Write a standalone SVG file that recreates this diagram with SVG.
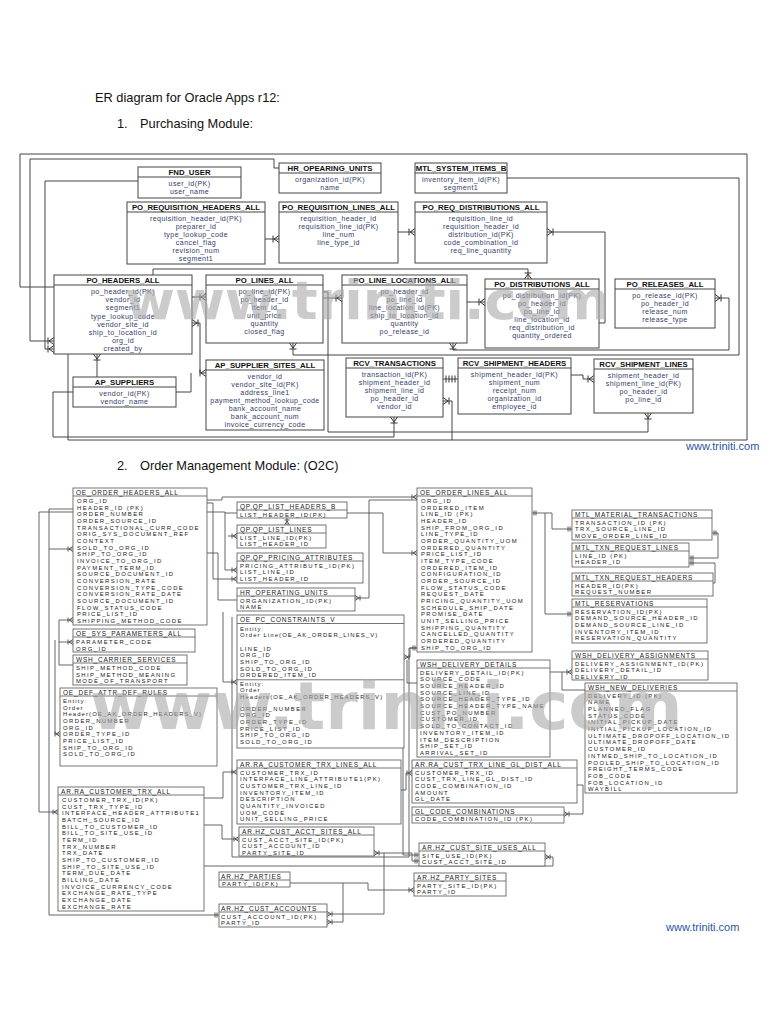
<svg xmlns="http://www.w3.org/2000/svg" width="768" height="1024" viewBox="0 0 768 1024">
<defs>
<style>
.bx rect{fill:#fff;stroke:#444;stroke-width:1}
.bx line{stroke:#444;stroke-width:1}
.bb rect{fill:#fff;stroke:#666;stroke-width:0.9}
.bb line{stroke:#666;stroke-width:0.9}
.th{font-family:"Liberation Sans",Arial,sans-serif;font-weight:bold;font-size:7.8px;fill:#111;text-anchor:middle}
.ta{font-family:"Liberation Sans",Arial,sans-serif;font-size:7.1px;letter-spacing:0.4px;fill:#33406a;text-anchor:middle}
.bh{font-family:"Liberation Sans",Arial,sans-serif;font-size:6.5px;fill:#222;letter-spacing:0.8px}
.ba{font-family:"Liberation Sans",Arial,sans-serif;font-size:5.95px;fill:#222;letter-spacing:1.4px}
.bm{font-family:"Liberation Sans",Arial,sans-serif;font-size:5.95px;fill:#222;letter-spacing:1.1px}
.cn path{fill:none;stroke:#444;stroke-width:1}
.cb path{fill:none;stroke:#555;stroke-width:0.9}
.ttl{font-family:"Liberation Sans",Arial,sans-serif;font-size:12.8px;fill:#111}
.wm{font-family:"DejaVu Sans","Liberation Sans",sans-serif;font-weight:bold;fill:#aaa;opacity:0.6}
.url{font-family:"Liberation Sans",Arial,sans-serif;font-size:11px;fill:#2a55a0}
</style>
<marker id="mn" viewBox="0 0 9 8" refX="9" refY="4" markerWidth="9" markerHeight="8" markerUnits="userSpaceOnUse" orient="auto-start-reverse"><path d="M9,0.5 L4,4 L9,7.5 M3,0.5 V7.5" fill="none" stroke="#333" stroke-width="1"/></marker>
<marker id="on" viewBox="0 0 9 8" refX="9" refY="4" markerWidth="9" markerHeight="8" markerUnits="userSpaceOnUse" orient="auto-start-reverse"><path d="M6,0.5 V7.5 M3,0.5 V7.5" fill="none" stroke="#333" stroke-width="1"/></marker>
<marker id="ms" viewBox="0 0 7 6" refX="7" refY="3" markerWidth="7" markerHeight="6" markerUnits="userSpaceOnUse" orient="auto-start-reverse"><path d="M7,0.5 L3,3 L7,5.5 M2,0.5 V5.5" fill="none" stroke="#444" stroke-width="0.9"/></marker>
<marker id="os" viewBox="0 0 7 6" refX="7" refY="3" markerWidth="7" markerHeight="6" markerUnits="userSpaceOnUse" orient="auto-start-reverse"><path d="M5,0.5 V5.5 M3,0.5 V5.5" fill="none" stroke="#444" stroke-width="0.9"/></marker>
</defs>
<rect width="768" height="1024" fill="#fff"/>

<text class="ttl" x="95" y="102">ER diagram for Oracle Apps r12:</text>
<text class="ttl" x="117" y="128">1.</text>
<text class="ttl" x="140" y="128">Purchasing Module:</text>
<text class="ttl" x="117" y="470">2.</text>
<text class="ttl" x="140" y="470">Order Management Module: (O2C)</text>

<!-- ===== TOP CONNECTORS ===== -->
<g id="connectors-purchasing" class="cn">
<path d="M265,239 H279" marker-end="url(#mn)"/>
<path d="M398,232 H415" marker-end="url(#mn)"/>
<path d="M192,297 H206" marker-end="url(#mn)"/>
<path d="M192,323 H200 V373 H206" marker-start="url(#mn)" marker-end="url(#mn)"/>
<path d="M176,392 H191 V373"/>
<path d="M97,377 V354" marker-end="url(#mn)"/>
<path d="M138,181 H45 V349 H54" marker-end="url(#mn)"/>
<path d="M279,168 H274 V159 H30 V341 H54" marker-end="url(#mn)"/>
<path d="M54,287 H20 V154 H747 V440 H68 V354"/>
<path d="M73,392 H53 V437 H394 V417" marker-end="url(#mn)"/>
<path d="M452,440 V401 H443" marker-end="url(#mn)"/>
<path d="M323,292 H328 V432 H648 V413" marker-end="url(#mn)"/>
<path d="M323,298 H342" marker-end="url(#mn)"/>
<path d="M467,302 H485" marker-end="url(#mn)"/>
<path d="M715,298 H729 V350 H453 V343" marker-start="url(#mn)" marker-end="url(#mn)"/>
<path d="M507,178 H739 V355 H293 V343" marker-end="url(#mn)"/>
<path d="M599,323 H605 V232 H547" marker-end="url(#mn)"/>
<path d="M153,275 V269 H528 V279" marker-end="url(#mn)"/>
<path d="M443,379 H458" marker-start="url(#on)" marker-end="url(#on)"/>
<path d="M571,375 H583 V379 H594" marker-end="url(#mn)"/>
</g>

<!-- ===== TOP NODES ===== -->
<g id="fnd_user" class="bx"><rect x="138" y="167" width="103" height="31"/><line x1="138" y1="177" x2="241" y2="177"/><text class="th" x="189.5" y="175">FND_USER</text><text class="ta"><tspan x="189.5" y="186">user_id(PK)</tspan><tspan x="189.5" dy="8">user_name</tspan></text></g>
<g id="hr_opearing_units" class="bx"><rect x="279" y="163" width="102" height="30"/><line x1="279" y1="173" x2="381" y2="173"/><text class="th" x="330" y="171">HR_OPEARING_UNITS</text><text class="ta"><tspan x="330" y="182">organization_id(PK)</tspan><tspan x="330" dy="8">name</tspan></text></g>
<g id="mtl_system_items_b" class="bx"><rect x="415" y="163" width="92" height="30"/><line x1="415" y1="173" x2="507" y2="173"/><text class="th" x="461" y="171">MTL_SYSTEM_ITEMS_B</text><text class="ta"><tspan x="461" y="182">inventory_item_id(PK)</tspan><tspan x="461" dy="8">segment1</tspan></text></g>
<g id="po_requisition_headers_all" class="bx"><rect x="127" y="202" width="138" height="62"/><line x1="127" y1="212" x2="265" y2="212"/><text class="th" x="196" y="210">PO_REQUISITION_HEADERS_ALL</text><text class="ta"><tspan x="196" y="221">requisition_header_id(PK)</tspan><tspan x="196" dy="8">preparer_id</tspan><tspan x="196" dy="8">type_lookup_code</tspan><tspan x="196" dy="8">cancel_flag</tspan><tspan x="196" dy="8">revision_num</tspan><tspan x="196" dy="8">segment1</tspan></text></g>
<g id="po_requisition_lines_all" class="bx"><rect x="279" y="202" width="119" height="61"/><line x1="279" y1="212" x2="398" y2="212"/><text class="th" x="338.5" y="210">PO_REQUISITION_LINES_ALL</text><text class="ta"><tspan x="338.5" y="221">requisition_header_id</tspan><tspan x="338.5" dy="8">requisition_line_id(PK)</tspan><tspan x="338.5" dy="8">line_num</tspan><tspan x="338.5" dy="8">line_type_id</tspan></text></g>
<g id="po_req_distributions_all" class="bx"><rect x="415" y="202" width="132" height="61"/><line x1="415" y1="212" x2="547" y2="212"/><text class="th" x="481" y="210">PO_REQ_DISTRIBUTIONS_ALL</text><text class="ta"><tspan x="481" y="221">requisition_line_id</tspan><tspan x="481" dy="8">requisition_header_id</tspan><tspan x="481" dy="8">distribution_id(PK)</tspan><tspan x="481" dy="8">code_combination_id</tspan><tspan x="481" dy="8">req_line_quantity</tspan></text></g>
<g id="po_headers_all" class="bx"><rect x="54" y="275" width="138" height="79"/><line x1="54" y1="285" x2="192" y2="285"/><text class="th" x="123" y="283">PO_HEADERS_ALL</text><text class="ta"><tspan x="123" y="294">po_header_id(PK)</tspan><tspan x="123" dy="8.2">vendor_id</tspan><tspan x="123" dy="8.2">segment1</tspan><tspan x="123" dy="8.2">type_lookup_code</tspan><tspan x="123" dy="8.2">vendor_site_id</tspan><tspan x="123" dy="8.2">ship_to_location_id</tspan><tspan x="123" dy="8.2">org_id</tspan><tspan x="123" dy="8.2">created_by</tspan></text></g>
<g id="po_lines_all" class="bx"><rect x="206" y="275" width="117" height="68"/><line x1="206" y1="285" x2="323" y2="285"/><text class="th" x="264.5" y="283">PO_LINES_ALL</text><text class="ta"><tspan x="264.5" y="294">po_line_id(PK)</tspan><tspan x="264.5" dy="8">po_header_id</tspan><tspan x="264.5" dy="8">item_id</tspan><tspan x="264.5" dy="8">unit_price</tspan><tspan x="264.5" dy="8">quantity</tspan><tspan x="264.5" dy="8">closed_flag</tspan></text></g>
<g id="po_line_locations_all" class="bx"><rect x="342" y="275" width="125" height="68"/><line x1="342" y1="285" x2="467" y2="285"/><text class="th" x="404.5" y="283">PO_LINE_LOCATIONS_ALL</text><text class="ta"><tspan x="404.5" y="294">po_header_id</tspan><tspan x="404.5" dy="8">po_line_id</tspan><tspan x="404.5" dy="8">line_location_id(PK)</tspan><tspan x="404.5" dy="8">ship_to_location_id</tspan><tspan x="404.5" dy="8">quantity</tspan><tspan x="404.5" dy="8">po_release_id</tspan></text></g>
<g id="po_distributions_all" class="bx"><rect x="485" y="279" width="114" height="69"/><line x1="485" y1="289" x2="599" y2="289"/><text class="th" x="542" y="287">PO_DISTRIBUTIONS_ALL</text><text class="ta"><tspan x="542" y="298">po_distribution_id(PK)</tspan><tspan x="542" dy="8">po_header_id</tspan><tspan x="542" dy="8">po_line_id</tspan><tspan x="542" dy="8">line_location_id</tspan><tspan x="542" dy="8">req_distribution_id</tspan><tspan x="542" dy="8">quantity_ordered</tspan></text></g>
<g id="po_releases_all" class="bx"><rect x="615" y="279" width="100" height="49"/><line x1="615" y1="289" x2="715" y2="289"/><text class="th" x="665" y="287">PO_RELEASES_ALL</text><text class="ta"><tspan x="665" y="298">po_release_id(PK)</tspan><tspan x="665" dy="8">po_header_id</tspan><tspan x="665" dy="8">release_num</tspan><tspan x="665" dy="8">release_type</tspan></text></g>
<g id="ap_suppliers" class="bx"><rect x="73" y="377" width="103" height="30"/><line x1="73" y1="387" x2="176" y2="387"/><text class="th" x="124.5" y="385">AP_SUPPLIERS</text><text class="ta"><tspan x="124.5" y="396">vendor_id(PK)</tspan><tspan x="124.5" dy="8">vendor_name</tspan></text></g>
<g id="ap_supplier_sites_all" class="bx"><rect x="206" y="360" width="118" height="70"/><line x1="206" y1="370" x2="324" y2="370"/><text class="th" x="265" y="368">AP_SUPPLIER_SITES_ALL</text><text class="ta"><tspan x="265" y="379">vendor_id</tspan><tspan x="265" dy="8">vendor_site_id(PK)</tspan><tspan x="265" dy="8">address_line1</tspan><tspan x="265" dy="8">payment_method_lookup_code</tspan><tspan x="265" dy="8">bank_account_name</tspan><tspan x="265" dy="8">bank_account_num</tspan><tspan x="265" dy="8">invoice_currency_code</tspan></text></g>
<g id="rcv_transactions" class="bx"><rect x="346" y="358" width="97" height="59"/><line x1="346" y1="368" x2="443" y2="368"/><text class="th" x="394.5" y="366">RCV_TRANSACTIONS</text><text class="ta"><tspan x="394.5" y="377">transaction_id(PK)</tspan><tspan x="394.5" dy="8">shipment_header_id</tspan><tspan x="394.5" dy="8">shipment_line_id</tspan><tspan x="394.5" dy="8">po_header_id</tspan><tspan x="394.5" dy="8">vendor_id</tspan></text></g>
<g id="rcv_shipment_headers" class="bx"><rect x="458" y="358" width="113" height="56"/><line x1="458" y1="368" x2="571" y2="368"/><text class="th" x="514.5" y="366">RCV_SHIPMENT_HEADERS</text><text class="ta"><tspan x="514.5" y="377">shipment_header_id(PK)</tspan><tspan x="514.5" dy="8">shipment_num</tspan><tspan x="514.5" dy="8">receipt_num</tspan><tspan x="514.5" dy="8">organization_id</tspan><tspan x="514.5" dy="8">employee_id</tspan></text></g>
<g id="rcv_shipment_lines" class="bx"><rect x="594" y="359" width="99" height="54"/><line x1="594" y1="369" x2="693" y2="369"/><text class="th" x="643.5" y="367">RCV_SHIPMENT_LINES</text><text class="ta"><tspan x="643.5" y="378">shipment_header_id</tspan><tspan x="643.5" dy="8">shipment_line_id(PK)</tspan><tspan x="643.5" dy="8">po_header_id</tspan><tspan x="643.5" dy="8">po_line_id</tspan></text></g>

<text class="url" x="686" y="450">www.triniti.com</text>

<!-- ===== BOTTOM CONNECTORS ===== -->
<g id="connectors-o2c" class="cb">
<path d="M73,509 H49 V915 H219" marker-end="url(#os)"/>
<path d="M73,512 H39 V812 H58" marker-end="url(#ms)"/>
<path d="M49,549 H73" marker-end="url(#ms)"/>
<path d="M73,665 H59 V620 H73" marker-end="url(#ms)"/>
<path d="M59,642 H73" marker-end="url(#ms)"/>
<path d="M55,640 V734 H60" marker-end="url(#ms)"/>
<path d="M207,500 H222 V497 H417" marker-end="url(#ms)"/>
<path d="M207,512 H225 V570 H237" marker-end="url(#ms)"/>
<path d="M207,503 H213 V579 H237" marker-end="url(#ms)"/>
<path d="M225,513 H237"/>
<path d="M228,536 H237" marker-end="url(#ms)"/>
<path d="M207,553 H218 V600 H237"/>
<path d="M287,518 V525" marker-end="url(#ms)"/>
<path d="M347,513 H383 V553 H417" marker-end="url(#ms)"/>
<path d="M355,598 H369 V500 H417" marker-start="url(#ms)"/>
<path d="M223,612 V682 H237" marker-end="url(#ms)"/>
<path d="M404,657 H410 V648 H417" marker-start="url(#ms)" marker-end="url(#os)"/>
<path d="M417,683 H407 V660"/>
<path d="M532,513 H552 V529 H572" marker-start="url(#os)" marker-end="url(#os)"/>
<path d="M545,513 V614 H572" marker-end="url(#os)"/>
<path d="M712,533 H718 V558 H689" marker-start="url(#os)" marker-end="url(#os)"/>
<path d="M689,563 H715 V583 H713" marker-start="url(#os)"/>
<path d="M550,672 H572" marker-end="url(#ms)"/>
<path d="M562,672 V690 H585"/>
<path d="M204,798 H223 V772 H237" marker-end="url(#ms)"/>
<path d="M401,790 H406 V773 H412" marker-end="url(#ms)"/>
<path d="M204,825 H222 V839 H239" marker-end="url(#ms)"/>
<path d="M577,785 H583 V814 H564" marker-end="url(#ms)"/>
<path d="M204,866 H553 V857 H545" marker-end="url(#ms)"/>
<path d="M374,853 H412 V861 H419" marker-start="url(#ms)" marker-end="url(#os)"/>
<path d="M327,914 H384 V853" marker-start="url(#ms)"/>
<path d="M290,883 H368 V890 H414" marker-end="url(#ms)"/>
<path d="M343,883 V922 H327" marker-end="url(#ms)"/>
<path d="M417,648 H409 V857 H232 V617"/>
<path d="M403,652 V855 H419" marker-end="url(#os)"/>
</g>

<!-- ===== BOTTOM NODES ===== -->
<g id="oe_order_headers_all" class="bb"><rect x="73" y="488" width="134" height="137"/><line x1="73" y1="496" x2="207" y2="496"/><text class="bh" x="76" y="495">OE_ORDER_HEADERS_ALL</text><text class="ba"><tspan x="77" y="503">ORG_ID</tspan><tspan x="77" dy="6.67">HEADER_ID (PK)</tspan><tspan x="77" dy="6.67">ORDER_NUMBER</tspan><tspan x="77" dy="6.67">ORDER_SOURCE_ID</tspan><tspan x="77" dy="6.67">TRANSACTIONAL_CURR_CODE</tspan><tspan x="77" dy="6.67">ORIG_SYS_DOCUMENT_REF</tspan><tspan x="77" dy="6.67">CONTEXT</tspan><tspan x="77" dy="6.67">SOLD_TO_ORG_ID</tspan><tspan x="77" dy="6.67">SHIP_TO_ORG_ID</tspan><tspan x="77" dy="6.67">INVOICE_TO_ORG_ID</tspan><tspan x="77" dy="6.67">PAYMENT_TERM_ID</tspan><tspan x="77" dy="6.67">SOURCE_DOCUMENT_ID</tspan><tspan x="77" dy="6.67">CONVERSION_RATE</tspan><tspan x="77" dy="6.67">CONVERSION_TYPE_CODE</tspan><tspan x="77" dy="6.67">CONVERSION_RATE_DATE</tspan><tspan x="77" dy="6.67">SOURCE_DOCUMENT_ID</tspan><tspan x="77" dy="6.67">FLOW_STATUS_CODE</tspan><tspan x="77" dy="6.67">PRICE_LIST_ID</tspan><tspan x="77" dy="6.67">SHIPPING_METHOD_CODE</tspan></text></g>
<g id="oe_sys_parameters_all" class="bb"><rect x="73" y="629" width="122" height="23"/><line x1="73" y1="637" x2="195" y2="637"/><text class="bh" x="76" y="636">OE_SYS_PARAMETERS_ALL</text><text class="ba"><tspan x="76" y="644">PARAMETER_CODE</tspan><tspan x="76" dy="6.67">ORG_ID</tspan></text></g>
<g id="wsh_carrier_services" class="bb"><rect x="73" y="655" width="114" height="30"/><line x1="73" y1="663" x2="187" y2="663"/><text class="bh" x="76" y="662">WSH_CARRIER_SERVICES</text><text class="ba"><tspan x="76" y="670">SHIP_METHOD_CODE</tspan><tspan x="76" dy="6.67">SHIP_METHOD_MEANING</tspan><tspan x="76" dy="6.67">MODE_OF_TRANSPORT</tspan></text></g>
<g id="oe_def_attr_def_rules" class="bb"><rect x="60" y="688" width="157" height="78"/><line x1="60" y1="696" x2="217" y2="696"/><text class="bh" x="63" y="695">OE_DEF_ATTR_DEF_RULES</text><text class="bm"><tspan x="63" y="703">Entity:</tspan><tspan x="63" dy="6.67">Order</tspan><tspan x="63" dy="6.67">Header(OE_AK_ORDER_HEADERS_V)</tspan></text><text class="ba"><tspan x="63" y="723">ORDER_NUMBER</tspan><tspan x="63" dy="6.67">ORG_ID</tspan><tspan x="63" dy="6.67">ORDER_TYPE_ID</tspan><tspan x="63" dy="6.67">PRICE_LIST_ID</tspan><tspan x="63" dy="6.67">SHIP_TO_ORG_ID</tspan><tspan x="63" dy="6.67">SOLD_TO_ORG_ID</tspan></text></g>
<g id="ar_ra_customer_trx_all" class="bb"><rect x="58" y="787" width="146" height="124"/><line x1="58" y1="795" x2="204" y2="795"/><text class="bh" x="61" y="794">AR.RA_CUSTOMER_TRX_ALL</text><text class="ba"><tspan x="62" y="802">CUSTOMER_TRX_ID(PK)</tspan><tspan x="62" dy="6.67">CUST_TRX_TYPE_ID</tspan><tspan x="62" dy="6.67">INTERFACE_HEADER_ATTRIBUTE1</tspan><tspan x="62" dy="6.67">BATCH_SOURCE_ID</tspan><tspan x="62" dy="6.67">BILL_TO_CUSTOMER_ID</tspan><tspan x="62" dy="6.67">BILL_TO_SITE_USE_ID</tspan><tspan x="62" dy="6.67">TERM_ID</tspan><tspan x="62" dy="6.67">TRX_NUMBER</tspan><tspan x="62" dy="6.67">TRX_DATE</tspan><tspan x="62" dy="6.67">SHIP_TO_CUSTOMER_ID</tspan><tspan x="62" dy="6.67">SHIP_TO_SITE_USE_ID</tspan><tspan x="62" dy="6.67">TERM_DUE_DATE</tspan><tspan x="62" dy="6.67">BILLING_DATE</tspan><tspan x="62" dy="6.67">INVOICE_CURRENCY_CODE</tspan><tspan x="62" dy="6.67">EXCHANGE_RATE_TYPE</tspan><tspan x="62" dy="6.67">EXCHANGE_DATE</tspan><tspan x="62" dy="6.67">EXCHANGE_RATE</tspan></text></g>
<g id="qp_list_headers_b" class="bb"><rect x="237" y="502" width="110" height="16"/><line x1="237" y1="510" x2="347" y2="510"/><text class="bh" x="240" y="509">QP.QP_LIST_HEADERS_B</text><text class="ba"><tspan x="240" y="516.5">LIST_HEADER_ID(PK)</tspan></text></g>
<g id="qp_list_lines" class="bb"><rect x="237" y="525" width="89" height="23"/><line x1="237" y1="533" x2="326" y2="533"/><text class="bh" x="240" y="532">QP.QP_LIST_LINES</text><text class="ba"><tspan x="240" y="539.8">LIST_LINE_ID(PK)</tspan><tspan x="240" dy="6.67">LIST_HEADER_ID</tspan></text></g>
<g id="qp_pricing_attributes" class="bb"><rect x="237" y="553" width="126" height="30"/><line x1="237" y1="561" x2="363" y2="561"/><text class="bh" x="240" y="560">QP.QP_PRICING_ATTRIBUTES</text><text class="ba"><tspan x="240" y="567.8">PRICING_ATTRIBUTE_ID(PK)</tspan><tspan x="240" dy="6.67">LIST_LINE_ID</tspan><tspan x="240" dy="6.67">LIST_HEADER_ID</tspan></text></g>
<g id="hr_operating_units" class="bb"><rect x="237" y="588" width="118" height="23"/><line x1="237" y1="596" x2="355" y2="596"/><text class="bh" x="240" y="595">HR_OPERATING_UNITS</text><text class="ba"><tspan x="240" y="602.8">ORGANIZATION_ID(PK)</tspan><tspan x="240" dy="6.67">NAME</tspan></text></g>
<g id="oe_pc_constraints_v" class="bb"><rect x="237" y="615" width="167" height="133"/><line x1="237" y1="623.5" x2="404" y2="623.5"/><line x1="237" y1="679.8" x2="404" y2="679.8"/><text class="bh" x="240" y="622">OE_PC_CONSTRAINTS_V</text><text class="bm"><tspan x="240" y="630.5">Entity:</tspan><tspan x="240" dy="6.67">Order Line(OE_AK_ORDER_LINES_V)</tspan></text><text class="ba"><tspan x="240" y="650.5">LINE_ID</tspan><tspan x="240" dy="6.67">ORG_ID</tspan><tspan x="240" dy="6.67">SHIP_TO_ORG_ID</tspan><tspan x="240" dy="6.67">SOLD_TO_ORG_ID</tspan><tspan x="240" dy="6.67">ORDERED_ITEM_ID</tspan></text><text class="bm"><tspan x="240" y="685.5">Entity:</tspan><tspan x="240" dy="6.67">Order</tspan><tspan x="240" dy="6.67">Headers(OE_AK_ORDER_HEADERS_V)</tspan></text><text class="ba"><tspan x="240" y="710.5">ORDER_NUMBER</tspan><tspan x="240" dy="6.67">ORG_ID</tspan><tspan x="240" dy="6.67">ORDER_TYPE_ID</tspan><tspan x="240" dy="6.67">PRICE_LIST_ID</tspan><tspan x="240" dy="6.67">SHIP_TO_ORG_ID</tspan><tspan x="240" dy="6.67">SOLD_TO_ORG_ID</tspan></text></g>
<g id="ar_ra_customer_trx_lines_all" class="bb"><rect x="237" y="760" width="164" height="64"/><line x1="237" y1="768" x2="401" y2="768"/><text class="bh" x="240" y="767">AR.RA_CUSTOMER_TRX_LINES_ALL</text><text class="ba"><tspan x="240" y="774.8">CUSTOMER_TRX_ID</tspan><tspan x="240" dy="6.67">INTERFACE_LINE_ATTRIBUTE1(PK)</tspan><tspan x="240" dy="6.67">CUSTOMER_TRX_LINE_ID</tspan><tspan x="240" dy="6.67">INVENTORY_ITEM_ID</tspan><tspan x="240" dy="6.67">DESCRIPTION</tspan><tspan x="240" dy="6.67">QUANTITY_INVOICED</tspan><tspan x="240" dy="6.67">UOM_CODE</tspan><tspan x="240" dy="6.67">UNIT_SELLING_PRICE</tspan></text></g>
<g id="ar_hz_cust_acct_sites_all" class="bb"><rect x="239" y="827" width="135" height="29"/><line x1="239" y1="835" x2="374" y2="835"/><text class="bh" x="242" y="834">AR.HZ_CUST_ACCT_SITES_ALL</text><text class="ba"><tspan x="242" y="841.8">CUST_ACCT_SITE_ID(PK)</tspan><tspan x="242" dy="6.67">CUST_ACCOUNT_ID</tspan><tspan x="242" dy="6.67">PARTY_SITE_ID</tspan></text></g>
<g id="ar_hz_parties" class="bb"><rect x="219" y="872" width="71" height="15"/><line x1="219" y1="880" x2="290" y2="880"/><text class="bh" x="221" y="879">AR.HZ_PARTIES</text><text class="ba"><tspan x="222" y="886">PARTY_ID(PK)</tspan></text></g>
<g id="ar_hz_cust_accounts" class="bb"><rect x="219" y="904" width="108" height="23"/><line x1="219" y1="912" x2="327" y2="912"/><text class="bh" x="221" y="911">AR.HZ_CUST_ACCOUNTS</text><text class="ba"><tspan x="221" y="918.8">CUST_ACCOUNT_ID(PK)</tspan><tspan x="221" dy="6.67">PARTY_ID</tspan></text></g>
<g id="oe_order_lines_all" class="bb"><rect x="417" y="488" width="115" height="164"/><line x1="417" y1="496" x2="532" y2="496"/><text class="bh" x="420" y="495">OE_ORDER_LINES_ALL</text><text class="ba"><tspan x="421" y="503">ORG_ID</tspan><tspan x="421" dy="6.67">ORDERED_ITEM</tspan><tspan x="421" dy="6.67">LINE_ID (PK)</tspan><tspan x="421" dy="6.67">HEADER_ID</tspan><tspan x="421" dy="6.67">SHIP_FROM_ORG_ID</tspan><tspan x="421" dy="6.67">LINE_TYPE_ID</tspan><tspan x="421" dy="6.67">ORDER_QUANTITY_UOM</tspan><tspan x="421" dy="6.67">ORDERED_QUANTITY</tspan><tspan x="421" dy="6.67">PRICE_LIST_ID</tspan><tspan x="421" dy="6.67">ITEM_TYPE_CODE</tspan><tspan x="421" dy="6.67">ORDERED_ITEM_ID</tspan><tspan x="421" dy="6.67">CONFIGURATION_ID</tspan><tspan x="421" dy="6.67">ORDER_SOURCE_ID</tspan><tspan x="421" dy="6.67">FLOW_STATUS_CODE</tspan><tspan x="421" dy="6.67">REQUEST_DATE</tspan><tspan x="421" dy="6.67">PRICING_QUANTITY_UOM</tspan><tspan x="421" dy="6.67">SCHEDULE_SHIP_DATE</tspan><tspan x="421" dy="6.67">PROMISE_DATE</tspan><tspan x="421" dy="6.67">UNIT_SELLING_PRICE</tspan><tspan x="421" dy="6.67">SHIPPING_QUANTITY</tspan><tspan x="421" dy="6.67">CANCELLED_QUANTITY</tspan><tspan x="421" dy="6.67">ORDERED_QUANTITY</tspan><tspan x="421" dy="6.67">SHIP_TO_ORG_ID</tspan></text></g>
<g id="wsh_delivery_details" class="bb"><rect x="417" y="660" width="133" height="97"/><line x1="417" y1="668" x2="550" y2="668"/><text class="bh" x="420" y="667">WSH_DELIVERY_DETAILS</text><text class="ba"><tspan x="420" y="674.8">DELIVERY_DETAIL_ID(PK)</tspan><tspan x="420" dy="6.67">SOURCE_CODE</tspan><tspan x="420" dy="6.67">SOURCE_HEADER_ID</tspan><tspan x="420" dy="6.67">SOURCE_LINE_ID</tspan><tspan x="420" dy="6.67">SOURCE_HEADER_TYPE_ID</tspan><tspan x="420" dy="6.67">SOURCE_HEADER_TYPE_NAME</tspan><tspan x="420" dy="6.67">CUST_PO_NUMBER</tspan><tspan x="420" dy="6.67">CUSTOMER_ID</tspan><tspan x="420" dy="6.67">SOLD_TO_CONTACT_ID</tspan><tspan x="420" dy="6.67">INVENTORY_ITEM_ID</tspan><tspan x="420" dy="6.67">ITEM_DESCRIPTION</tspan><tspan x="420" dy="6.67">SHIP_SET_ID</tspan><tspan x="420" dy="6.67">ARRIVAL_SET_ID</tspan></text></g>
<g id="ar_ra_cust_trx_line_gl_dist_all" class="bb"><rect x="412" y="760" width="165" height="43"/><line x1="412" y1="768" x2="577" y2="768"/><text class="bh" x="415" y="767">AR.RA_CUST_TRX_LINE_GL_DIST_ALL</text><text class="ba"><tspan x="415" y="774.8">CUSTOMER_TRX_ID</tspan><tspan x="415" dy="6.67">CUST_TRX_LINE_GL_DIST_ID</tspan><tspan x="415" dy="6.67">CODE_COMBINATION_ID</tspan><tspan x="415" dy="6.67">AMOUNT</tspan><tspan x="415" dy="6.67">GL_DATE</tspan></text></g>
<g id="gl_code_combinations" class="bb"><rect x="412" y="807" width="152" height="16"/><line x1="412" y1="815" x2="564" y2="815"/><text class="bh" x="415" y="814">GL_CODE_COMBINATIONS</text><text class="ba"><tspan x="415" y="821.3">CODE_COMBINATION_ID (PK)</tspan></text></g>
<g id="ar_hz_cust_site_uses_all" class="bb"><rect x="419" y="843" width="126" height="23"/><line x1="419" y1="851" x2="545" y2="851"/><text class="bh" x="422" y="850">AR.HZ_CUST_SITE_USES_ALL</text><text class="ba"><tspan x="422" y="857.8">SITE_USE_ID(PK)</tspan><tspan x="422" dy="6.67">CUST_ACCT_SITE_ID</tspan></text></g>
<g id="ar_hz_party_sites" class="bb"><rect x="414" y="873" width="92" height="23"/><line x1="414" y1="881" x2="506" y2="881"/><text class="bh" x="417" y="880">AR.HZ_PARTY_SITES</text><text class="ba"><tspan x="417" y="887.8">PARTY_SITE_ID(PK)</tspan><tspan x="417" dy="6.67">PARTY_ID</tspan></text></g>
<g id="mtl_material_transactions" class="bb"><rect x="572" y="510" width="140" height="30"/><line x1="572" y1="518" x2="712" y2="518"/><text class="bh" x="575" y="517">MTL_MATERIAL_TRANSACTIONS</text><text class="ba"><tspan x="575" y="524.8">TRANSACTION_ID (PK)</tspan><tspan x="575" dy="6.67">TRX_SOURCE_LINE_ID</tspan><tspan x="575" dy="6.67">MOVE_ORDER_LINE_ID</tspan></text></g>
<g id="mtl_txn_request_lines" class="bb"><rect x="572" y="543" width="117" height="24"/><line x1="572" y1="551" x2="689" y2="551"/><text class="bh" x="575" y="550">MTL_TXN_REQUEST_LINES</text><text class="ba"><tspan x="575" y="557.8">LINE_ID (PK)</tspan><tspan x="575" dy="6.67">HEADER_ID</tspan></text></g>
<g id="mtl_txn_request_headers" class="bb"><rect x="572" y="573" width="141" height="23"/><line x1="572" y1="581" x2="713" y2="581"/><text class="bh" x="575" y="580">MTL_TXN_REQUEST_HEADERS</text><text class="ba"><tspan x="575" y="587.8">HEADER_ID(PK)</tspan><tspan x="575" dy="6.67">REQUEST_NUMBER</tspan></text></g>
<g id="mtl_reservations" class="bb"><rect x="572" y="599" width="135" height="44"/><line x1="572" y1="607" x2="707" y2="607"/><text class="bh" x="575" y="606">MTL_RESERVATIONS</text><text class="ba"><tspan x="575" y="613.8">RESERVATION_ID(PK)</tspan><tspan x="575" dy="6.67">DEMAND_SOURCE_HEADER_ID</tspan><tspan x="575" dy="6.67">DEMAND_SOURCE_LINE_ID</tspan><tspan x="575" dy="6.67">INVENTORY_ITEM_ID</tspan><tspan x="575" dy="6.67">RESERVATION_QUANTITY</tspan></text></g>
<g id="wsh_delivery_assignments" class="bb"><rect x="572" y="651" width="136" height="29"/><line x1="572" y1="659" x2="708" y2="659"/><text class="bh" x="575" y="658">WSH_DELIVERY_ASSIGNMENTS</text><text class="ba"><tspan x="575" y="665.8">DELIVERY_ASSIGNMENT_ID(PK)</tspan><tspan x="575" dy="6.67">DELIVERY_DETAIL_ID</tspan><tspan x="575" dy="6.67">DELIVERY_ID</tspan></text></g>
<g id="wsh_new_deliveries" class="bb"><rect x="585" y="683" width="152" height="110"/><line x1="585" y1="691" x2="737" y2="691"/><text class="bh" x="588" y="690">WSH_NEW_DELIVERIES</text><text class="ba"><tspan x="588" y="697.8">DELIVERY_ID (PK)</tspan><tspan x="588" dy="6.67">NAME</tspan><tspan x="588" dy="6.67">PLANNED_FLAG</tspan><tspan x="588" dy="6.67">STATUS_CODE</tspan><tspan x="588" dy="6.67">INITIAL_PICKUP_DATE</tspan><tspan x="588" dy="6.67">INITIAL_PICKUP_LOCATION_ID</tspan><tspan x="588" dy="6.67">ULTIMATE_DROPOFF_LOCATION_ID</tspan><tspan x="588" dy="6.67">ULTIMATE_DROPOFF_DATE</tspan><tspan x="588" dy="6.67">CUSTOMER_ID</tspan><tspan x="588" dy="6.67">INTMED_SHIP_TO_LOCATION_ID</tspan><tspan x="588" dy="6.67">POOLED_SHIP_TO_LOCATION_ID</tspan><tspan x="588" dy="6.67">FREIGHT_TERMS_CODE</tspan><tspan x="588" dy="6.67">FOB_CODE</tspan><tspan x="588" dy="6.67">FOB_LOCATION_ID</tspan><tspan x="588" dy="6.67">WAYBILL</tspan></text></g>

<text class="url" x="666" y="931">www.triniti.com</text>

<text class="wm" x="125" y="319" font-size="54">www.triniti.com</text>
<text class="wm" x="90" y="729" font-size="66">www.triniti.com</text>
</svg>
